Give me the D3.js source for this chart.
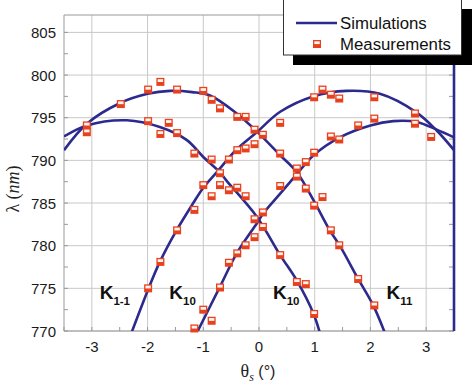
<!DOCTYPE html>
<html><head><meta charset="utf-8">
<script src="https://cdn.jsdelivr.net/npm/d3@7"></script>
<style>html,body{margin:0;padding:0;background:#fff;}svg{display:block;}</style>
</head><body><div id="chart"></div>
<script>
// ---- data ----
const xTicks = [-3, -2, -1, 0, 1, 2, 3];
const yTicks = [770, 775, 780, 785, 790, 795, 800, 805];

// simulation curves (theta in deg, lambda in nm)
const k11Theta   = [-3.5, -3.09, -2.5, -2.0, -1.6, -1.2, -0.88, -0.4, -0.04, 0.38, 0.68, 0.98, 1.27, 1.45, 1.78, 2.05, 2.27];
const k11Lambda  = [791.2, 794.3, 796.7, 797.8, 798.15, 798.0, 797.6, 795.5, 793.4, 790.6, 788.6, 785.3, 781.8, 780.0, 776.1, 773.0, 769.6];
const k1m1Theta  = [-2.3, -2.0, -1.78, -1.48, -1.18, -1.0, -0.76, -0.4, -0.04, 0.38, 0.97, 1.57, 2.17, 2.83, 3.19, 3.5];
const k1m1Lambda = [769.6, 774.7, 778.1, 781.8, 785.0, 786.8, 788.6, 791.3, 793.3, 795.7, 797.5, 798.15, 797.8, 795.6, 793.5, 791.2];
const k10aTheta  = [-1.13, -0.7, -0.4, -0.04, 0.08, 0.38, 0.68, 0.98, 1.45, 2.0, 2.41, 2.83, 3.19, 3.5];
const k10aLambda = [769.6, 775.2, 779.1, 782.6, 783.8, 786.1, 788.4, 790.6, 792.7, 794.1, 794.6, 794.5, 793.6, 792.7];
const k10bTheta  = [-3.5, -3.09, -2.37, -1.78, -1.3, -1.0, -0.7, -0.58, -0.04, 0.38, 0.68, 0.98, 1.1];
const k10bLambda = [792.8, 794.1, 794.7, 793.9, 792.4, 790.4, 788.6, 787.6, 783.4, 778.9, 775.9, 772.0, 769.6];

// measurements
const measTheta = [-3.09, -3.09, -2.48, -1.99, -1.77, -1.47, -1.0, -0.85, -0.7, -0.39, -0.24, -0.08,
  -1.99, -1.77, -1.62, -1.47, -1.16, -0.85, -0.7, -0.54, -0.39, -0.24, -0.08,
  -1.0, -0.7, -0.54, -0.39, -0.85, -0.24, -0.08, -0.08, -0.24, -0.39, -0.54, -0.7, -1.0, -0.85, -1.16,
  -1.16, -1.47, -1.77, -1.99,
  0.07, 0.07, 0.38, 0.38, 0.84, 0.99, 1.14, 1.29, 1.44, 1.78, 2.07, 0.68, 0.84, 0.99,
  0.07, 0.38, 0.38, 0.68, 0.68, 0.84, 0.99, 0.99, 1.14, 1.29, 1.44, 2.07, 1.29, 1.44, 1.78, 2.07, 2.8, 2.8, 3.09];
const measLambda = [794.1, 793.3, 796.6, 798.3, 799.2, 798.3, 798.15, 797.1, 796.1, 795.1, 795.1, 793.6,
  794.6, 793.1, 794.4, 793.2, 790.8, 790.1, 788.5, 790.1, 791.2, 791.4, 791.9,
  787.1, 787.1, 786.5, 786.8, 785.8, 785.8, 783.1, 781.0, 780.05, 779.1, 778.0, 775.1, 772.5, 771.2, 770.3,
  784.2, 781.8, 778.1, 775.0,
  783.9, 782.2, 787.0, 778.9, 786.7, 784.7, 785.7, 781.8, 780.05, 776.1, 773.0, 775.75, 775.5, 772.0,
  793.0, 794.4, 790.8, 789.05, 788.1, 789.8, 790.9, 797.4, 798.3, 797.7, 797.25, 797.4, 792.8, 792.45, 794.1, 794.9, 795.5, 794.3, 792.75];

const curveLabels = [
  {main: "K", sub: "1-1", theta: -2.86},
  {main: "K", sub: "10",  theta: -1.61},
  {main: "K", sub: "10",  theta: 0.25},
  {main: "K", sub: "11",  theta: 2.29}
];

// ---- layout ----
const W = 474, H = 386;
const L = 64, R = 454, T = 15, B = 331;
const blue = "#2d2a8e";
const svg = d3.select("#chart").append("svg").attr("width", W).attr("height", H);

const x = d3.scaleLinear().domain([-3.5, 3.5]).range([L, R]);
const y = d3.scaleLinear().domain([770, 807.04]).range([B, T]);

// grid
const g = svg.append("g");
g.selectAll(".vg").data(xTicks).join("line")
  .attr("x1", d => x(d)).attr("x2", d => x(d)).attr("y1", T).attr("y2", B)
  .attr("stroke", "#c9c9c9").attr("stroke-width", 1);
g.selectAll(".hg").data(yTicks).join("line")
  .attr("x1", L).attr("x2", R).attr("y1", d => y(d)).attr("y2", d => y(d))
  .attr("stroke", "#c9c9c9").attr("stroke-width", 1);

// frame
svg.append("line").attr("x1", L).attr("x2", R).attr("y1", T).attr("y2", T).attr("stroke", "#999");
svg.append("line").attr("x1", L).attr("x2", L).attr("y1", T).attr("y2", B).attr("stroke", "#999");
svg.append("line").attr("x1", L).attr("x2", R).attr("y1", B).attr("y2", B).attr("stroke", "#999");

// minor ticks
const xMinor = d3.range(-3.5, 3.51, 0.5);
svg.selectAll(".xm").data(xMinor).join("line")
  .attr("x1", d => x(d)).attr("x2", d => x(d)).attr("y1", B).attr("y2", B - 4)
  .attr("stroke", "#999");
const yMinor = d3.range(770, 807, 2.5);
svg.selectAll(".ym").data(yMinor).join("line")
  .attr("x1", L).attr("x2", L + 4).attr("y1", d => y(d)).attr("y2", d => y(d))
  .attr("stroke", "#999");
svg.selectAll(".yr").data(yMinor).join("line")
  .attr("x1", R - 5).attr("x2", R).attr("y1", d => y(d)).attr("y2", d => y(d))
  .attr("stroke", "#999");

// tick labels
svg.selectAll(".xl").data(xTicks).join("text")
  .attr("x", d => x(d)).attr("y", 352).attr("text-anchor", "middle")
  .attr("font-family", "Arial, 'Liberation Sans', sans-serif").attr("font-size", 15).attr("fill", "#1a1a1a")
  .text(d => d);
svg.selectAll(".yl").data(yTicks).join("text")
  .attr("x", 56).attr("y", d => y(d) + 5.5).attr("text-anchor", "end")
  .attr("font-family", "Arial, 'Liberation Sans', sans-serif").attr("font-size", 15).attr("fill", "#1a1a1a")
  .text(d => d);

// axis titles
const yt = svg.append("text").attr("transform", "translate(19,189) rotate(-90)")
  .attr("text-anchor", "middle").attr("font-family", "'Liberation Serif', serif").attr("font-size", 18).attr("fill", "#222");
yt.append("tspan").text("λ (");
yt.append("tspan").attr("font-style", "italic").text("nm");
yt.append("tspan").text(")");

const xt = svg.append("text").attr("x", 258).attr("y", 377).attr("text-anchor", "middle")
  .attr("font-family", "Arial, 'Liberation Sans', sans-serif").attr("font-size", 16).attr("fill", "#222");
xt.append("tspan").attr("font-family", "'Liberation Serif', serif").attr("font-size", 18).text("θ");
xt.append("tspan").attr("font-family", "'Liberation Serif', serif").attr("font-style", "italic").attr("font-size", 12).attr("dy", 4).text("s");
xt.append("tspan").attr("dy", -4).text(" (°)");

// clip
svg.append("clipPath").attr("id", "clip").append("rect")
  .attr("x", L).attr("y", T).attr("width", R - L).attr("height", B - T);

const line = d3.line().x(d => x(d[0])).y(d => y(d[1])).curve(d3.curveCatmullRom.alpha(0.5));
const curves = [
  d3.zip(k11Theta, k11Lambda),
  d3.zip(k1m1Theta, k1m1Lambda),
  d3.zip(k10aTheta, k10aLambda),
  d3.zip(k10bTheta, k10bLambda)
];
svg.append("g").attr("clip-path", "url(#clip)").selectAll("path").data(curves).join("path")
  .attr("d", line).attr("fill", "none").attr("stroke", blue).attr("stroke-width", 2.6);

// right blue axis line
svg.append("line").attr("x1", R).attr("x2", R).attr("y1", T).attr("y2", B)
  .attr("stroke", blue).attr("stroke-width", 2.6);

// markers
function marker(sel, cx, cy) {
  const m = sel.append("g").attr("transform", `translate(${cx - 4},${cy - 4})`);
  m.append("rect").attr("width", 8).attr("height", 8).attr("fill", "#e8411d");
  m.append("rect").attr("x", 1.3).attr("y", 1.3).attr("width", 5.4).attr("height", 2.8).attr("fill", "#fff4f0");
}
const mg = svg.append("g");
d3.zip(measTheta, measLambda).forEach(d => marker(mg, x(d[0]), y(d[1])));

// curve labels
curveLabels.forEach(c => {
  const t = svg.append("text").attr("x", x(c.theta)).attr("y", 299)
    .attr("font-family", "Arial, 'Liberation Sans', sans-serif").attr("font-weight", "bold")
    .attr("font-size", 19).attr("fill", "#111");
  t.append("tspan").text(c.main);
  t.append("tspan").attr("font-size", 11.5).attr("dy", 6).text(c.sub);
});

// legend
svg.append("rect").attr("x", 293).attr("y", 9).attr("width", 179).attr("height", 56).attr("fill", "#000");
svg.append("rect").attr("x", 283.5).attr("y", -1).attr("width", 178).attr("height", 56)
  .attr("fill", "#fff").attr("stroke", "#333").attr("stroke-width", 1);
svg.append("line").attr("x1", 296).attr("x2", 337).attr("y1", 23).attr("y2", 23)
  .attr("stroke", blue).attr("stroke-width", 2.6);
marker(svg, 317, 44);
svg.append("text").attr("x", 340).attr("y", 29).attr("font-family", "Arial, 'Liberation Sans', sans-serif")
  .attr("font-size", 16.8).attr("fill", "#111").text("Simulations");
svg.append("text").attr("x", 340).attr("y", 50).attr("font-family", "Arial, 'Liberation Sans', sans-serif")
  .attr("font-size", 16.8).attr("fill", "#111").text("Measurements");
</script></body></html>
